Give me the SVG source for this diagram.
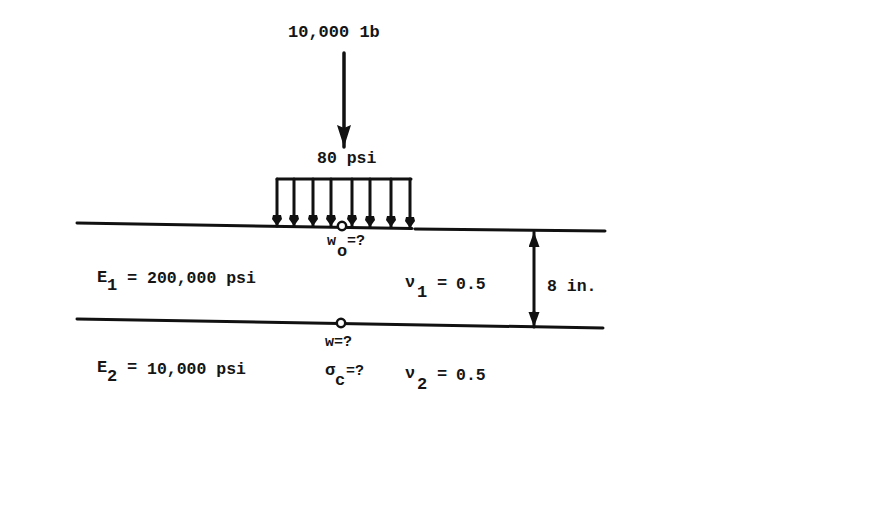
<svg xmlns="http://www.w3.org/2000/svg" width="891" height="511" viewBox="0 0 891 511">
<style>
text{font-family:"Liberation Mono","DejaVu Sans Mono",monospace;font-weight:bold;fill:#151515;font-size:17px}
.sm{font-size:15px}
.val{font-size:16.500px}
.ln{stroke:#111;fill:none;stroke-linecap:round}
.c{stroke:#111;stroke-width:2.500;fill:#fff}
</style>
<defs>
<marker id="h" markerUnits="userSpaceOnUse" markerWidth="14" markerHeight="12" refX="11" refY="5" orient="auto"><path d="M0 1L4 0L11 5L4 10L0 9Z" fill="#111"/></marker>
<marker id="big" markerUnits="userSpaceOnUse" markerWidth="24" markerHeight="16" refX="22" refY="7" orient="auto"><path d="M0 0L22 7L0 14L3 7Z" fill="#111"/></marker>
<marker id="dim" markerUnits="userSpaceOnUse" markerWidth="18" markerHeight="12" refX="15" refY="5.500" orient="auto"><path d="M0 0L15 5.500L0 11Z" fill="#111"/></marker>
</defs>
<rect width="891" height="511" fill="#fff"/>
<g id="connectors">
<path class="ln" d="M344 53V147" stroke-width="3.500" marker-end="url(#big)"/>
<path class="ln" d="M77 223L412 228.500M415 229L605 231" stroke-width="3"/>
<path class="ln" d="M77 319L603 328" stroke-width="3"/>
<path class="ln" d="M534 240V320" stroke-width="3"/>
<path class="ln" d="M534 246V232" stroke-width="3" marker-end="url(#dim)"/>
<path class="ln" d="M534 312V327" stroke-width="3" marker-end="url(#dim)"/>
</g>
<g id="pressure-load">
<path class="ln" d="M277 179H411" stroke-width="3"/>
<g stroke-width="3">
<path class="ln" d="M277 179V226" marker-end="url(#h)"/>
<path class="ln" d="M294 179V226" marker-end="url(#h)"/>
<path class="ln" d="M313 179V226" marker-end="url(#h)"/>
<path class="ln" d="M331 179V226" marker-end="url(#h)"/>
<path class="ln" d="M352 179V226" marker-end="url(#h)"/>
<path class="ln" d="M370 179V227" marker-end="url(#h)"/>
<path class="ln" d="M391 179V227" marker-end="url(#h)"/>
<path class="ln" d="M410 179V228" marker-end="url(#h)"/>
</g>
</g>
<g id="point-top"><circle class="c" cx="342" cy="226" r="4.200"/></g>
<g id="point-bottom"><circle class="c" cx="341" cy="323" r="4.200"/></g>
<g id="labels">
<text x="288" y="37">10,000 1b</text>
<text class="val" x="317" y="163">80 psi</text>
<text class="sm" x="327" y="245">w</text><text x="337" y="256">o</text><text class="sm" x="347" y="245">=?</text>
<text x="97" y="282">E</text><text x="107" y="290">1</text><text x="127" y="283">=</text><text class="val" x="147" y="283">200,000 psi</text>
<text x="405" y="287">ν</text><text x="417" y="297">1</text><text x="437" y="288">=</text><text class="val" x="456" y="289">0.5</text>
<text class="val" x="547" y="291">8 in.</text>
<text class="sm" x="325" y="346">w=?</text>
<text x="97" y="372">E</text><text x="107" y="381">2</text><text x="127" y="372">=</text><text class="val" x="147" y="374">10,000 psi</text>
<text x="325" y="375">σ</text><text x="335" y="385">c</text><text class="sm" x="346" y="375">=?</text>
<text x="405" y="378">ν</text><text x="417" y="389">2</text><text x="437" y="379">=</text><text class="val" x="456" y="380">0.5</text>
</g>
</svg>
